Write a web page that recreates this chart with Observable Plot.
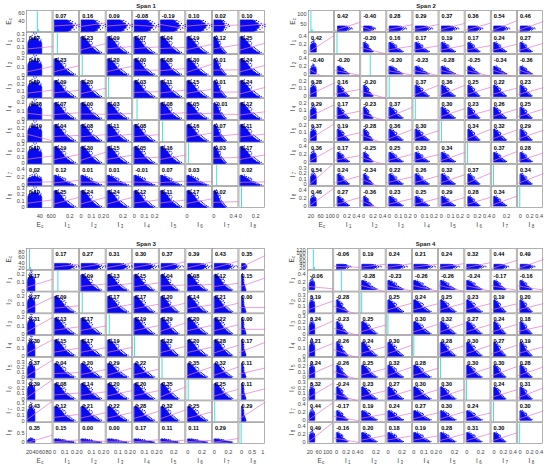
<!DOCTYPE html>
<html><head><meta charset="utf-8">
<script src="https://cdn.jsdelivr.net/npm/d3@7"></script>
<script src="https://cdn.jsdelivr.net/npm/@observablehq/plot@0.6"></script>
<style>
body{margin:0;background:#fff;}
#wrap{position:relative;width:550px;height:469px;background:#fff;}
.panel{position:absolute;}
</style></head><body><div id="wrap"></div>
<script>
// ---------- data ----------
const varMain = ["E","I","I","I","I","I","I","I","I"];
const varSub  = ["c","1","2","3","4","5","6","7","8"];
const spanTitles = ["Span 1","Span 2","Span 3","Span 4"];

// correlation coefficients, upper triangle (row k: variable k vs variables k+1..8)
const corrSpan1 = [
 [0.07,0.16,0.09,-0.08,-0.19,0.10,0.02,0.10],
 [0.23,0.09,0.07,0.04,0.19,0.12,0.25],
 [0.20,0.00,0.08,0.30,0.01,0.24],
 [0.03,0.11,0.15,0.01,0.24],
 [0.08,0.05,-0.01,0.12],
 [0.16,0.07,0.11],
 [0.03,0.17],
 [0.02]
];
const corrSpan2 = [
 [0.42,-0.40,0.28,0.29,0.37,0.36,0.54,0.46],
 [-0.20,0.16,0.17,0.19,0.17,0.24,0.27],
 [-0.20,-0.23,-0.28,-0.25,-0.34,-0.36],
 [0.37,0.36,0.25,0.22,0.23],
 [0.30,0.23,0.26,0.25],
 [0.34,0.32,0.29],
 [0.37,0.28],
 [0.34]
];
const corrSpan3 = [
 [0.17,0.27,0.31,0.30,0.37,0.39,0.43,0.35],
 [0.09,0.13,0.15,0.04,0.08,0.12,0.15],
 [0.17,0.17,0.20,0.14,0.21,0.00],
 [0.19,0.29,0.20,0.22,0.00],
 [0.22,0.20,0.28,0.17],
 [0.35,0.32,0.11],
 [0.25,0.11],
 [0.29]
];
const corrSpan4 = [
 [-0.06,0.19,0.24,0.21,0.24,0.32,0.44,0.49],
 [-0.28,-0.23,-0.26,-0.26,-0.24,-0.17,-0.16],
 [0.25,0.24,0.25,0.23,0.19,0.20],
 [0.30,0.32,0.27,0.24,0.18],
 [0.28,0.30,0.27,0.19],
 [0.30,0.30,0.28],
 [0.24,0.31],
 [0.30]
];

// axis limits of each variable
const domainSpan1 = [[14,66],[-0.01,0.32],[-0.01,0.24],[-0.01,0.32],[-0.01,0.24],[-0.01,0.32],[-0.01,0.32],[-0.02,0.5],[-0.01,0.32]];
const domainSpan2 = [[12,116],[-0.05,0.48],[-0.05,0.48],[-0.02,0.25],[-0.02,0.25],[-0.02,0.25],[-0.05,0.48],[-0.03,0.36],[-0.05,0.48]];
const domainSpan3 = [[14,92],[-0.01,0.24],[-0.01,0.24],[-0.01,0.24],[-0.01,0.24],[-0.02,0.38],[-0.02,0.34],[-0.02,0.34],[-0.1,1.1]];
const domainSpan4 = [[12,125],[-0.05,0.48],[-0.02,0.34],[-0.02,0.34],[-0.01,0.24],[-0.02,0.34],[-0.02,0.34],[-0.05,0.48],[-0.05,0.48]];

// tick labels
const xTicksSpan1 = [[40,60],[0,0.2],[0,0.1,0.2],[0,0.2],[0,0.1,0.2],[],[0],[0,0.4],[0,0.2]];
const yTicksSpan1 = [[40,60],[0,0.1,0.2,0.3],[0,0.1,0.2],[0,0.1,0.2,0.3],[0,0.1,0.2],[0,0.1,0.2,0.3],[0,0.1,0.2,0.3],[0,0.2,0.4],[0,0.1,0.2,0.3]];
const xTicksSpan2 = [[20,60,100],[0,0.2,0.4],[0,0.2,0.4],[0,0.1,0.2],[0,0.1,0.2],[0,0.1,0.2],[0,0.2,0.4],[0,0.2],[0,0.2,0.4]];
const yTicksSpan2 = [[50,100],[0,0.2,0.4],[0,0.2,0.4],[0,0.1,0.2],[0,0.1,0.2],[0,0.1,0.2],[0,0.2,0.4],[0,0.1,0.2,0.3],[0,0.2,0.4]];
const xTicksSpan3 = [[20,40,60,80],[0,0.1,0.2],[0,0.1,0.2],[0,0.1,0.2],[0,0.1,0.2],[0,0.2],[0,0.2],[0,0.2],[0,0.5,1]];
const yTicksSpan3 = [[20,40,60,80],[0,0.1,0.2],[0,0.1,0.2],[0,0.1,0.2],[0,0.1,0.2],[0,0.1,0.2,0.3],[0,0.1,0.2,0.3],[0,0.1,0.2,0.3],[0,0.5]];
const xTicksSpan4 = [[20,60,100],[0,0.2,0.4],[0,0.2],[0,0.2],[0,0.1,0.2],[0,0.2],[0,0.2],[0,0.2,0.4],[0,0.2,0.4]];
const yTicksSpan4 = [[20,40,60,80,100,120],[0,0.2,0.4],[0,0.1,0.2,0.3],[0,0.1,0.2,0.3],[0,0.1,0.2],[0,0.1,0.2,0.3],[0,0.1,0.2,0.3],[0,0.2,0.4],[0,0.2,0.4]];

// main extent of the observed values of each variable
const massSpan1 = [[16,44],[0,0.27],[0,0.2],[0,0.27],[0,0.2],[0,0.27],[0,0.27],[0,0.25],[0,0.27]];
const massSpan2 = [[18,42],[0,0.25],[0,0.2],[0,0.15],[0,0.15],[0,0.15],[0,0.25],[0,0.2],[0,0.25]];
const massSpan3 = [[16,38],[0,0.2],[0,0.2],[0,0.2],[0,0.2],[0,0.28],[0,0.28],[0,0.26],[0,0.2]];
const massSpan4 = [[18,42],[0,0.24],[0,0.22],[0,0.22],[0,0.17],[0,0.22],[0,0.22],[0,0.25],[0,0.25]];

// histogram mode of each variable (diagonal)
const peakSpan1 = [36,0.045,0.015,0.022,0.032,0.033,0.022,0.068,0.022];
const peakSpan2 = [22,0.0,0.15,0.005,0.005,0.005,0.0,0.005,0.0];
const peakSpan3 = [23,0.037,0.015,0.02,0.008,0.023,0.013,0.013,0.0];
const peakSpan4 = [38,0.11,0.005,0.005,0.004,0.005,0.005,0.0,0.0];

// estimated shape of the dense point cloud (unit square) and its loose points
const blobOutline = [[0,0],[0.95,0],[0.9,0.06],[0.78,0.1],[0.7,0.2],[0.62,0.24],[0.57,0.36],[0.48,0.4],[0.45,0.52],[0.38,0.58],[0.35,0.7],[0.27,0.74],[0.24,0.86],[0.14,0.88],[0.09,1.0],[0,0.96]];
const blobDots = [[0.42,0.68],[0.52,0.5],[0.62,0.38],[0.74,0.28],[0.85,0.16],[1,0.06],[0.3,0.86],[0.55,0.6],[0.68,0.34],[0.5,0.7],[0.8,0.22],[0.2,1.02],[0.92,0.1],[0.4,0.78]];
const bandOutline = [[0,0],[1,0],[1,0.6],[0.9,0.75],[0.8,0.68],[0.7,0.88],[0.6,0.8],[0.5,0.98],[0.4,0.85],[0.3,0.92],[0.2,0.75],[0.1,0.82],[0,0.65]];
const bandDots = [[0.5,1.08],[0.3,1.05],[0.7,1.0],[0.85,0.88],[0.15,0.95],[0.6,1.18],[0.42,1.25],[0.95,0.78]];

// ---------- drawing ----------
const FONT = "Liberation Sans, Arial, Helvetica, sans-serif";
const layouts = [
  {left:0,   top:0,   width:275, height:234, mt:10, mb:26, ml:26, mr:10, lab:-18},
  {left:275, top:0,   width:275, height:234, mt:10, mb:26, ml:33, mr:7,  lab:-16},
  {left:0,   top:234, width:275, height:235, mt:14, mb:25, ml:26, mr:10, lab:-18},
  {left:275, top:234, width:275, height:235, mt:14, mb:25, ml:32, mr:7,  lab:-16}
];
const panelData = [
  {corr:corrSpan1, domain:domainSpan1, xTicks:xTicksSpan1, yTicks:yTicksSpan1, mass:massSpan1, peaks:peakSpan1},
  {corr:corrSpan2, domain:domainSpan2, xTicks:xTicksSpan2, yTicks:yTicksSpan2, mass:massSpan2, peaks:peakSpan2},
  {corr:corrSpan3, domain:domainSpan3, xTicks:xTicksSpan3, yTicks:yTicksSpan3, mass:massSpan3, peaks:peakSpan3},
  {corr:corrSpan4, domain:domainSpan4, xTicks:xTicksSpan4, yTicks:yTicksSpan4, mass:massSpan4, peaks:peakSpan4}
];

function buildPanel(k) {
  const {corr, domain, xTicks, yTicks, mass, peaks} = panelData[k];
  const L = layouts[k];
  const n = 9, g = 0.02, w = 1 - 2*g;
  const frac = (i, val) => (val - domain[i][0]) / (domain[i][1] - domain[i][0]);
  const clamp = t => Math.max(0, Math.min(1, t));
  const X = (c, u) => c + g + clamp(u)*w;
  const Y = (r, v) => r + 1 - g - clamp(v)*w;
  const rOf = (i, j) => { const a = Math.min(i,j), b = Math.max(i,j); return corr[a][b-a-1]; };
  const mv = (i, t) => mass[i][0] + t*(mass[i][1]-mass[i][0]);

  const cells = [], polys = [], dots = [], hist = [], lines = [], corrLabels = [];
  let pid = 0;
  for (let r = 0; r < n; r++) {
    for (let c = 0; c < n; c++) {
      cells.push({x1: c+g, x2: c+1-g, y1: r+g, y2: r+1-g});
      if (r === c) {
        const f = frac(c, peaks[c]);
        hist.push({x1: X(c, f-0.018), x2: X(c, f+0.018), y1: Y(r, 0.97), y2: Y(r, 0)});
        if (c === 0) hist.push({x1: X(c, f+0.018), x2: X(c, f+0.07), y1: Y(r, 0.1), y2: Y(r, 0)});
        continue;
      }
      const mapPt = (tu, tv, band) => {
        let xv, yv;
        if (!band) { xv = mv(c, tu); yv = mv(r, tv); }
        else if (c === 0) { xv = mv(0, tu); yv = mv(r, tv); }
        else { xv = mv(c, tv); yv = mv(0, tu); }
        return {x: X(c, frac(c, xv)), y: Y(r, frac(r, yv))};
      };
      const band = (r === 0 || c === 0);
      const outline = band ? bandOutline : blobOutline;
      const loose = band ? bandDots : blobDots;
      pid++;
      for (const [tu, tv] of outline) polys.push({...mapPt(tu, tv, band), id: pid});
      for (const [tu, tv] of loose) dots.push(mapPt(tu, tv, band));
      // least-squares line
      const rr = rOf(r, c);
      const cv = i => i === 0 ? (mass[0][0]+mass[0][1])/2 : mv(i, 0.3);
      const uc = frac(c, cv(c)), vc = frac(r, cv(r));
      const ex = (mass[c][1]-mass[c][0])/(domain[c][1]-domain[c][0]);
      const ey = (mass[r][1]-mass[r][0])/(domain[r][1]-domain[r][0]);
      const s = rr * 1.3 * Math.sqrt(ey/ex);
      let ua = 0, ub = 1;
      if (s !== 0) {
        const u0 = uc - vc/s, u1 = uc + (1-vc)/s;
        ua = Math.max(0, Math.min(u0, u1)); ub = Math.min(1, Math.max(u0, u1));
      }
      const vf = u => vc + s*(u-uc);
      lines.push({x: X(c, ua), y: Y(r, vf(ua)), id: pid});
      lines.push({x: X(c, ub), y: Y(r, vf(ub)), id: pid});
      corrLabels.push({x: c+g, y: r+g, text: rr.toFixed(2)});
    }
  }
  const xTickLabels = [], yTickLabels = [];
  for (let i = 0; i < n; i++) {
    for (const t of xTicks[i]) xTickLabels.push({x: X(i, frac(i, t)), y: n, text: String(t)});
    for (const t of yTicks[i]) yTickLabels.push({x: 0, y: Y(i, frac(i, t)), text: String(t)});
  }
  const varLabels = varMain.map((m, i) => ({pos: i+0.5, main: m, sub: varSub[i]}));

  return Plot.plot({
    width: L.width, height: L.height,
    marginTop: L.mt, marginBottom: L.mb, marginLeft: L.ml, marginRight: L.mr,
    x: {domain: [0, 9], axis: null},
    y: {domain: [0, 9], reverse: true, axis: null},
    style: {fontFamily: FONT, background: "white", overflow: "visible"},
    marks: [
      Plot.rect(cells, {x1: "x1", x2: "x2", y1: "y1", y2: "y2", fill: "white", stroke: "#8f8f8f", strokeWidth: 0.7}),
      Plot.line(polys, {x: "x", y: "y", z: "id", fill: "#0a0af0", stroke: "#0a0af0", strokeWidth: 0.7, curve: "linear-closed"}),
      Plot.dot(dots, {x: "x", y: "y", r: 0.6, fill: "#0000ff"}),
      Plot.rect(hist, {x1: "x1", x2: "x2", y1: "y1", y2: "y2", fill: "#3ad8d8"}),
      Plot.line(lines, {x: "x", y: "y", z: "id", stroke: "#e07ac8", strokeWidth: 0.7}),
      Plot.text(corrLabels, {x: "x", y: "y", text: "text", dx: 2, dy: 5, textAnchor: "start", fontWeight: "bold", fontSize: 5.6, fill: "black"}),
      Plot.text(xTickLabels, {x: "x", y: "y", text: "text", dy: 8, fontSize: 5.6, fill: "#444"}),
      Plot.text(yTickLabels, {x: "x", y: "y", text: "text", dx: -2, textAnchor: "end", fontSize: 5.6, fill: "#444"}),
      Plot.text(varLabels, {x: "pos", y: () => 9, text: "main", dy: 16, dx: -1, fontSize: 6.5, fill: "#444"}),
      Plot.text(varLabels, {x: "pos", y: () => 9, text: "sub", dy: 18, dx: 2.5, fontSize: 4.5, fill: "#444"}),
      Plot.text(varLabels, {x: () => 0, y: "pos", text: "main", dx: L.lab, dy: 1, rotate: -90, fontSize: 6.5, fill: "#444"}),
      Plot.text(varLabels, {x: () => 0, y: "pos", text: "sub", dx: L.lab + 2, dy: -2.5, rotate: -90, fontSize: 4.5, fill: "#444"}),
      Plot.text([{t: spanTitles[k]}], {x: () => 4.5, y: () => 0, text: "t", dy: -4, fontSize: 6, fontWeight: "bold", fill: "#222"})
    ]
  });
}

const wrap = document.getElementById("wrap");
for (let k = 0; k < 4; k++) {
  const div = document.createElement("div");
  div.className = "panel";
  div.style.left = layouts[k].left + "px";
  div.style.top = layouts[k].top + "px";
  div.appendChild(buildPanel(k));
  wrap.appendChild(div);
}
</script>
</body></html>
